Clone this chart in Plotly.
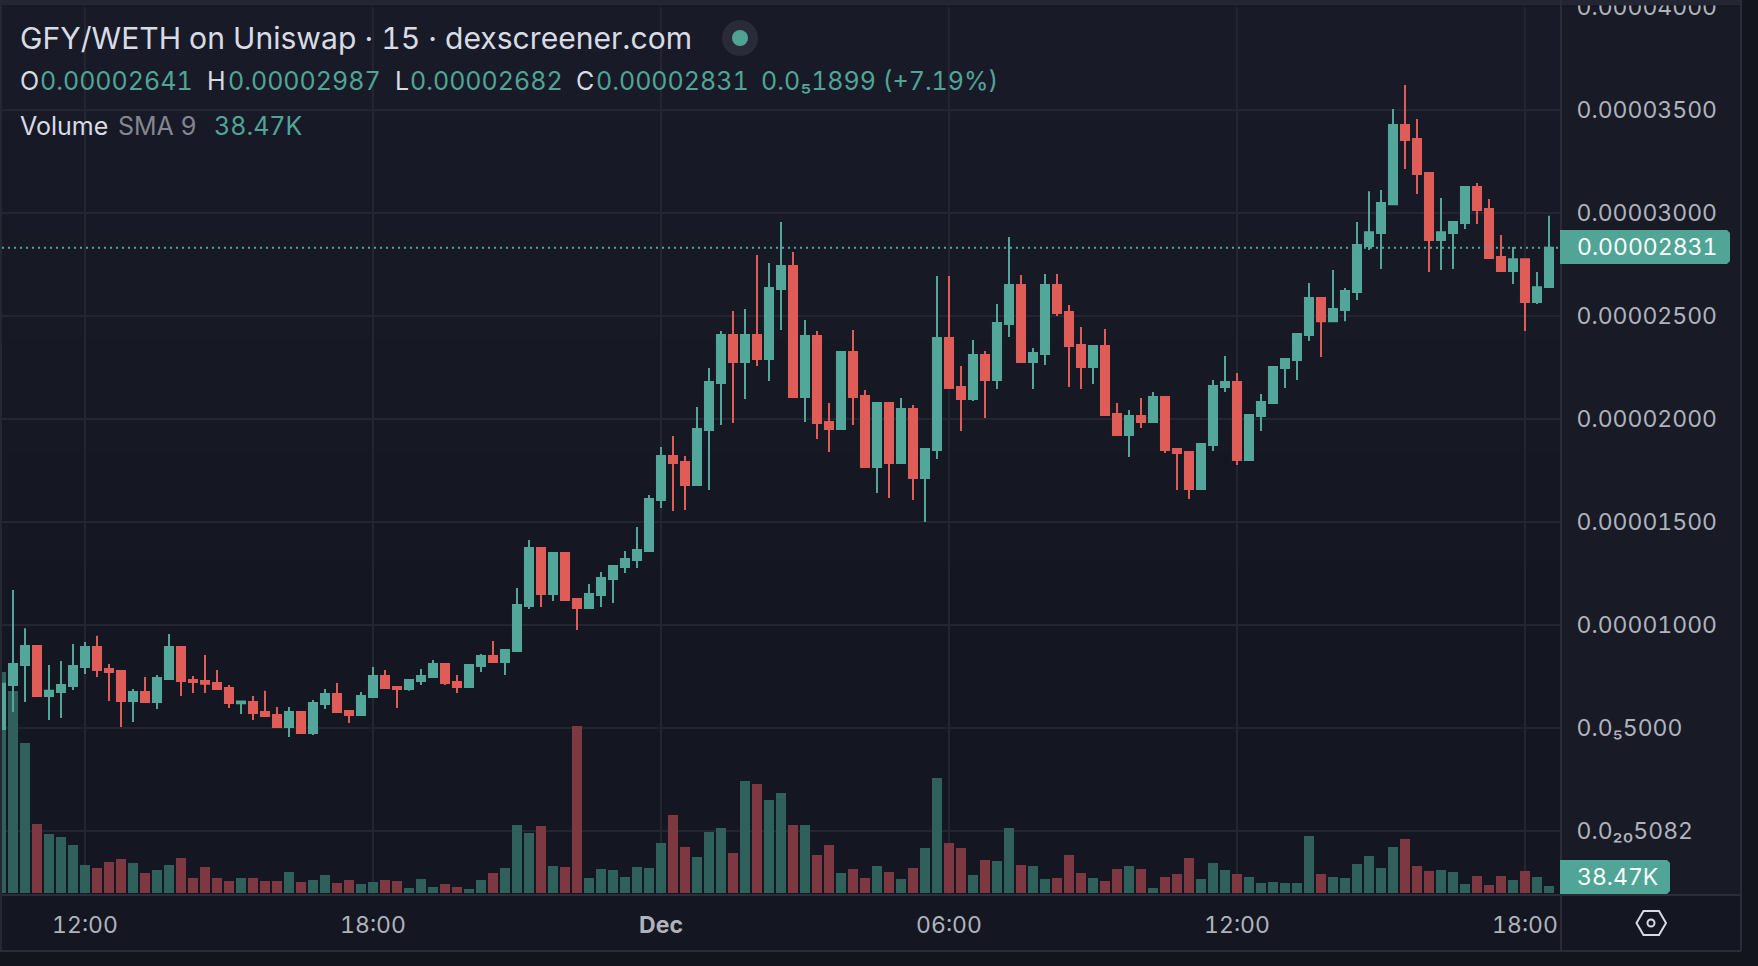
import pandas as pd
import plotly.graph_objects as go

# Prices in units of 1e-8 WETH, one 15-minute candle each, starting 10:15 on 30 Nov
opens = [495,709,806,898,655,675,704,796,893,786,777,631,675,626,738,893,733,728,718,694,620,626,578,563,505,578,476,616,665,582,563,650,752,699,689,728,747,811,723,699,801,849,820,
         874,1092,1374,1150,1349,1126,1082,1146,1223,1281,1315,1359,
         1607,1820,1791,1680,1947,2175,2408,2277,2408,2291,2631,2743,2107,2403,1985,1951,2325,2112,1767,2077,1786,2048,1713,1849,2393,2155,2097,2311,2189,2461,2650,2277,2315,2650,2519,2359,2252,2354,2024,1922,2014,1985,2107,1854,1840,1660,
         1874,2155,2179,1801,2014,2077,2247,2286,2408,2587,2475,2529,2616,2840,2903,3043,3427,3359,3194,2869,2903,2951,3126,3019,2786,2718,2776,2568,2641]
highs = [714,1170,984,903,806,825,908,917,947,811,777,689,747,757,956,893,752,854,781,709,631,655,680,602,602,578,636,689,718,582,675,796,781,699,733,786,830,811,757,811,859,922,883,
         1179,1413,1374,1349,1349,1131,1199,1257,1286,1359,1476,1631,
         1864,1917,1820,2058,2247,2427,2524,2534,2796,2757,2956,2811,2480,2427,2077,2325,2432,2141,2082,2077,2102,2068,1859,2694,2694,2257,2383,2330,2558,2883,2699,2344,2704,2704,2553,2446,2354,2437,2077,2044,2102,2131,2107,1854,1845,1879,
         2189,2306,2223,2019,2121,2252,2296,2412,2660,2587,2723,2636,2956,3106,3111,3505,3621,3456,3194,3073,2956,3126,3145,3068,2893,2835,2776,2713,2987]
lows = [495,578,626,655,539,548,684,762,747,631,505,529,626,592,738,655,670,670,689,597,568,539,558,505,456,471,466,592,573,524,563,650,689,597,680,709,747,709,670,699,772,820,757,
        874,1078,1087,1116,1121,976,1078,1087,1107,1252,1277,1359,
        1568,1553,1558,1675,1655,1971,1980,2097,2257,2184,2432,2107,1985,1903,1840,1947,1971,1767,1641,1616,1786,1607,1500,1806,2150,1942,2087,2005,2145,2398,2277,2145,2262,2500,2155,2145,2170,2019,1922,1815,1956,1985,1835,1655,1612,1660,
        1845,2131,1777,1801,1942,2077,2150,2189,2378,2301,2475,2475,2577,2820,2728,3043,3213,3092,2713,2723,2728,2922,2946,2781,2718,2655,2427,2558,2636]
closes = [714,811,898,655,680,709,801,893,781,772,631,675,626,743,893,728,723,714,689,621,628,573,558,505,578,476,621,665,578,563,655,752,694,689,733,752,811,718,699,806,849,820,879,
          1097,1374,1150,1349,1121,1082,1150,1228,1286,1320,1364,1611,
          1820,1786,1680,1951,2179,2408,2277,2408,2291,2636,2743,2107,2403,1980,1951,2325,2107,1767,2077,1786,2048,1713,1854,2393,2150,2097,2311,2189,2466,2650,2277,2320,2650,2514,2354,2252,2354,2019,1922,2014,1985,2107,1849,1835,1660,1879,
          2160,2179,1801,2019,2082,2252,2291,2412,2587,2475,2534,2621,2844,2907,3048,3427,3354,3189,2869,2907,2956,3126,3014,2781,2718,2776,2568,2640,2831]
# Volume in thousands
volumes = [1215,1111,825,379,324,308,264,154,137,170,187,165,110,126,154,192,82,143,82,66,82,82,66,66,115,60,71,99,55,71,49,60,71,66,27,77,33,49,33,22,71,110,137,
           374,330,368,148,143,918,82,132,126,88,143,137,
           275,429,253,198,335,357,220,616,599,511,550,374,374,209,264,110,132,82,148,115,77,137,247,632,275,247,99,181,176,357,154,148,77,82,209,110,82,66,132,148,132,27,88,104,192,77,
           165,126,104,88,55,60,55,55,313,104,88,82,159,203,137,253,297,148,121,126,115,49,93,44,93,71,121,88,38.47]

price_ticks = [0,500,1000,1500,2000,2500,3000,3500,4000]
price_tick_labels = ["0.0₂₀5082","0.0₅5000","0.00001000","0.00001500","0.00002000","0.00002500","0.00003000","0.00003500","0.00004000"]
time_ticks = ["2023-11-30 12:00","2023-11-30 18:00","2023-12-01 00:00","2023-12-01 06:00","2023-12-01 12:00","2023-12-01 18:00"]
time_tick_labels = ["12:00","18:00","<b>Dec</b>","06:00","12:00","18:00"]
last_price = 2831

times = pd.date_range("2023-11-30 10:15", periods=len(closes), freq="15min")

GREEN, RED = "#53a69a", "#e05d57"
VGREEN, VRED = "#30605b", "#7d3841"
GRID, BORDER = "#232631", "#2a2d39"
TICK, TEXT = "#b0b3bc", "#d8dbe3"
TEAL = "#50a596"
FONT = "Inter"
AXIS_SIZE = 23
LEGEND_SIZE = 25

L, R, T, B = 2, 1561, 7, 895
def px(x): return (x - L) / (R - L)
def py(y): return (B - y) / (B - T)
def box(x0, y0, x1, y1, color, layer="above"):
    return dict(type="rect", xref="paper", yref="paper", x0=px(x0), x1=px(x1), y0=py(y0), y1=py(y1),
                fillcolor=color, line_width=0, layer=layer)
def line(x0, y0, x1, y1, color=BORDER, width=2):
    return dict(type="line", xref="paper", yref="paper", x0=px(x0), x1=px(x1), y0=py(y0), y1=py(y1),
                line=dict(color=color, width=width), layer="above")
def tag(x0, y0, x1, y1, color):
    r = 3
    p = (f"M {px(x0)} {py(y0)} L {px(x1-r)} {py(y0)} L {px(x1)} {py(y0+r)} L {px(x1)} {py(y1-r)} "
         f"L {px(x1-r)} {py(y1)} L {px(x0)} {py(y1)} Z")
    return dict(type="path", xref="paper", yref="paper", path=p, fillcolor=color, line_width=0, layer="above")
def dot(cx, cy, r, color, lw=0, lc=None):
    return dict(type="circle", xref="paper", yref="paper", x0=px(cx-r), x1=px(cx+r), y0=py(cy-r), y1=py(cy+r),
                fillcolor=color, line=dict(width=lw, color=lc or color), layer="above")
def label(x, y, text, color=TEXT, size=22, anchor="left"):
    return dict(xref="paper", yref="paper", x=px(x), y=py(y), text=text, showarrow=False, xanchor=anchor,
                align="left", yanchor="middle", font=dict(family=FONT, size=size, color=color),
                borderpad=0, borderwidth=0)

fig = go.Figure()
fig.add_bar(x=times, y=volumes, width=750000, yaxis="y",
            marker=dict(color=[VGREEN if c >= o else VRED for o, c in zip(opens, closes)], line_width=0))
fig.add_candlestick(x=times, open=opens, high=highs, low=lows, close=closes, yaxis="y2",
                    increasing=dict(line=dict(color=GREEN, width=2), fillcolor=GREEN),
                    decreasing=dict(line=dict(color=RED, width=2), fillcolor=RED))

shapes = []
# vertical shading of the pane, lighter at the top
bands = ["#181b27", "#171a26", "#171a25", "#161924", "#151823", "#141722"]
bh = (B - T) * 0.75 / len(bands)
for k, c in enumerate(bands):
    shapes.append(box(L, T + k * bh, R, T + (k + 1) * bh + 1, c, "below"))
shapes.append(box(L, T + 6 * bh, R, B, bands[-1], "below"))
shapes.append(box(R, T, 1741, B, "#181b26", "below"))
shapes.append(box(L, B, 1741, 951, "#141722", "below"))
# last-price dotted line
shapes.append(dict(type="line", xref="paper", yref="y2", x0=0, x1=1, y0=last_price, y1=last_price,
                   line=dict(color=TEAL, width=2, dash="2px,4px"), layer="above"))
# frame
shapes += [box(0, 0, 1741, 5.5, "#232632"), box(0, 0, 2, 951, "#252833"),
           line(R, 0, R, 951), line(L, B, 1741, B), line(0, 951, 1741, 951), line(1741, 0, 1741, 951)]
# tags
shapes += [tag(1560, 230, 1730, 264, TEAL), tag(1560, 860, 1670, 894, TEAL)]
# status dot
shapes += [dot(740, 38, 18, "#292c38"), dot(740, 38, 8, "#4ea393")]
# settings icon
hx = [(1636.5, 923), (1643.5, 911), (1659, 911), (1666, 923), (1659, 935), (1643.5, 935)]
shapes.append(dict(type="path", xref="paper", yref="paper", layer="above", line=dict(color=TEXT, width=2),
                   path="M " + " L ".join(f"{px(a)} {py(b)}" for a, b in hx) + " Z"))
shapes.append(dot(1651, 923, 3.5, "rgba(0,0,0,0)", 2, TEXT))

annotations = [
    label(20, 38, "GFY/WETH on Uniswap · 15 · dexscreener.com", TEXT, 30.1),
    label(20, 81.5, "O", TEXT, LEGEND_SIZE), label(40, 81.5, "0.00002641", TEAL, LEGEND_SIZE),
    label(207, 81.5, "H", TEXT, LEGEND_SIZE), label(228, 81.5, "0.00002987", TEAL, LEGEND_SIZE),
    label(395, 81.5, "L", TEXT, LEGEND_SIZE), label(410, 81.5, "0.00002682", TEAL, LEGEND_SIZE),
    label(576, 81.5, "C", TEXT, LEGEND_SIZE), label(596, 81.5, "0.00002831", TEAL, LEGEND_SIZE),
    label(761, 81.5, "0.0₅1899 (+7.19%)", TEAL, LEGEND_SIZE),
    label(20, 125.5, "Volume", TEXT, LEGEND_SIZE), label(118, 125.5, "SMA 9", "#83868f", LEGEND_SIZE),
    label(214, 125.5, "38.47K", TEAL, LEGEND_SIZE),
    label(1577, 247, "0.00002831", "#ffffff", AXIS_SIZE),
    label(1577, 877, "38.47K", "#ffffff", AXIS_SIZE),
]

fig.update_layout(
    width=1758, height=966, autosize=False, showlegend=False,
    margin=dict(l=L, r=1758 - R, t=T, b=966 - B, pad=0, autoexpand=False),
    paper_bgcolor="#12151e", plot_bgcolor="rgba(0,0,0,0)",
    boxgap=0.33, boxgroupgap=0, bargap=0,
    font=dict(family=FONT, color=TICK, size=AXIS_SIZE),
    xaxis=dict(type="date", range=["2023-11-30 10:16:15", "2023-12-01 18:45:00"], rangeslider_visible=False,
               tickvals=time_ticks, ticktext=time_tick_labels, tickangle=0, ticks="outside", ticklen=9,
               tickcolor="rgba(0,0,0,0)", tickfont=dict(family=FONT, size=AXIS_SIZE, color=TICK), automargin=False,
               showgrid=True, gridcolor=GRID, gridwidth=2, showline=False, zeroline=False),
    yaxis=dict(range=[-9.4, 4875], visible=False, showgrid=False, zeroline=False, fixedrange=True, automargin=False),
    yaxis2=dict(range=[-311, 4000], overlaying="y", side="right", anchor="x", tickvals=price_ticks,
                ticktext=price_tick_labels, ticks="outside", ticklen=10, tickcolor="rgba(0,0,0,0)",
                ticklabeloverflow="allow", automargin=False,
                tickfont=dict(family=FONT, size=AXIS_SIZE, color=TICK), showgrid=True, gridcolor=GRID, gridwidth=2,
                showline=False, zeroline=False),
    shapes=shapes, annotations=annotations,
)

fig.write_html("out.html", config=dict(displayModeBar=False),
               post_script="document.body.style.margin='0';document.documentElement.style.background='#12151e';"
                           "var s=document.createElement('style');s.textContent='svg text{font-feature-settings:\"tnum\" 1;font-variant-numeric:tabular-nums;}';document.head.appendChild(s);")
